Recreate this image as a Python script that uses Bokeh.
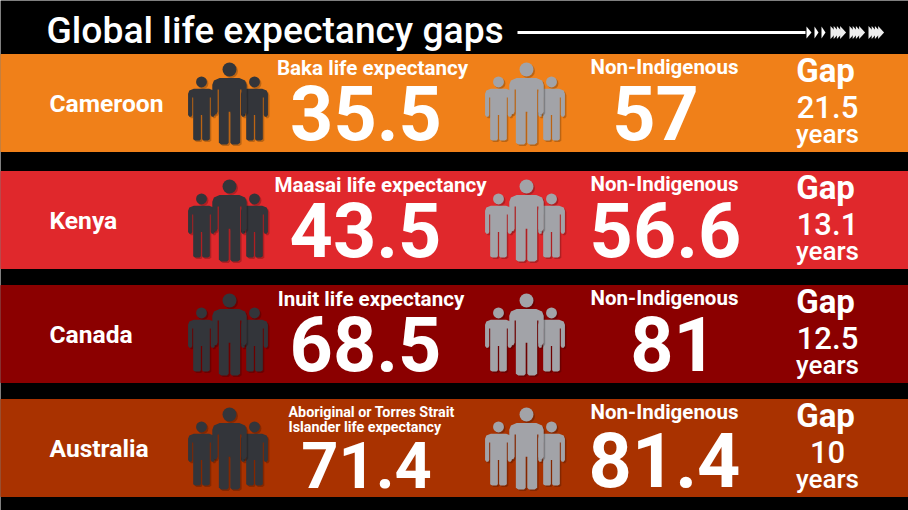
from bokeh.plotting import figure
from bokeh.models import Range1d
from bokeh.core.properties import value
from bokeh.embed import file_html
from bokeh.resources import INLINE

# ---- data ----
title_text = "Global life expectancy gaps"
countries = ["Cameroon", "Kenya", "Canada", "Australia"]
indigenous_labels = ["Baka life expectancy", "Maasai life expectancy", "Inuit life expectancy", None]
aboriginal_lines = ["Aboriginal or Torres Strait", "Islander life expectancy"]
other_label = "Non-Indigenous"
indigenous_values = [35.5, 43.5, 68.5, 71.4]
other_values = [57, 56.6, 81, 81.4]
gap_values = [21.5, 13.1, 12.5, 10]

# ---- layout and style (reference pixels) ----
FONT = "Roboto"
MEDIUM = "Roboto Medium, Roboto"
band_colors = ["#F08019", "#E0282C", "#8B0000", "#A93200"]
band_tops = [54, 171, 285, 399]
BAND_H = 97
DARK, GREY = "#33353A", "#A2A3A8"

p = figure(width=908, height=510, output_backend="svg", toolbar_location=None,
           x_range=Range1d(0, 908), y_range=Range1d(510, 0),
           background_fill_color="black", border_fill_color="black",
           min_border=0, outline_line_color=None)
p.xaxis.visible = False
p.yaxis.visible = False
p.grid.visible = False

p.quad(left=[0] * 4, right=[908] * 4, top=band_tops,
       bottom=[t + BAND_H for t in band_tops], color=band_colors)


def txt(x, y, s, size, align="center", style="bold", font=FONT):
    p.text([x], [y], text=[s], text_color="white", text_font=value(font),
           text_font_size=f"{size}px", text_font_style=style,
           text_align=align, text_baseline="middle")


# person silhouette, normalised: head top 0, feet 1
half = [(.12, .19), (.19, .22), (.21, .27), (.21, .60), (.19, .63), (.16, .63), (.145, .60),
        (.145, .33), (.13, .33), (.13, .98), (.10, 1.0), (.03, 1.0), (.01, .98), (.01, .60)]
body = half + [(-a, b) for a, b in reversed(half)]


def person(cx, top, h, color):
    r = .085 * h
    for dx, dy, c, a in [(1.5, 1.5, "#000000", .22), (0, 0, color, 1)]:
        p.patch([cx + dx + a_ * h for a_, _ in body], [top + dy + b_ * h for _, b_ in body],
                fill_color=c, fill_alpha=a, line_color=None)
        p.ellipse([cx + dx], [top + dy + r], width=2 * r, height=2 * r,
                  fill_color=c, fill_alpha=a, line_color=None)


def group(cx, top, color):
    person(cx - 28, top + 14, 64, color)
    person(cx + 25, top + 14, 64, color)
    person(cx, top, 82, color)


# title and arrow
txt(46, 29, title_text, 37.2, "left", "normal", MEDIUM)
p.line([517, 805], [32, 32], line_color="white", line_width=3)
for x0, w in [(806, 5), (814, 4), (821, 4)]:
    p.patch([x0, x0 + w, x0], [26, 32, 38], color="white", line_color=None)
for x0 in [830, 849, 868]:
    for k in range(4):
        p.patch([x0 + 3.2 * k, x0 + 3.2 * k + 6, x0 + 3.2 * k], [25.5, 32, 38.5],
                color="#EDEDED", line_color=None)

# rows
value_x = [365.5, 365, 365, 366]
value_size = [75.5, 75.5, 75.5, 65]
other_x = [655, 665, 673, 664]
label_x = [372, 380, 370.5, None]

for i, top in enumerate(band_tops):
    txt(49, top + 49, countries[i], 24.6, "left")
    group(229, top + 8, DARK)
    group(526, top + 8, GREY)
    if indigenous_labels[i]:
        txt(label_x[i], top + 13, indigenous_labels[i], 20.6)
    else:
        txt(288, top + 12.5, aboriginal_lines[0], 14.3, "left")
        txt(288, top + 27.5, aboriginal_lines[1], 14.3, "left")
    txt(value_x[i], top + (58 if i < 3 else 65), f"{indigenous_values[i]:g}", value_size[i])
    txt(664, top + 12, other_label, 20.5)
    txt(other_x[i], top + 58 + (2 if i == 3 else 0), f"{other_values[i]:g}", 75.5)
    txt(825, top + 16, "Gap", 33)
    txt(827, top + 52, f"{gap_values[i]:g}", 31, style="normal", font=MEDIUM)
    txt(827, top + 79, "years", 26, style="normal", font=MEDIUM)

open("out.html", "w").write(file_html(p, INLINE))
